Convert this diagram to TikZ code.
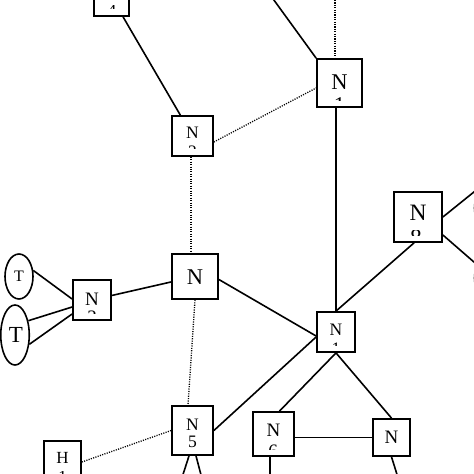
\documentclass[tikz,border=0pt]{standalone}
\usepackage{fontspec}
\setmainfont{Liberation Serif}
\usetikzlibrary{shapes.geometric,calc}
\tikzset{
  box/.style={draw, line width=1.8pt, rectangle, inner sep=0pt, fill=white},
  ell/.style={draw, line width=1.6pt, ellipse, inner sep=0pt},
  lab/.style={inner sep=0pt},
  edge/.style={line width=1.6pt},
  dotl/.style={line width=1.3pt, dash pattern=on 1.1pt off 1.3pt},
}
\newcommand\fsz[1]{\fontsize{#1}{#1}\selectfont}
\newcommand\fragd[6]{%
  \begin{scope}
    \clip (#2-8,#3) rectangle (#2+8,#4);
    \node[lab, anchor=north, font=\fsz{#6}] (#1) at (#2,#3) {#5};
  \end{scope}}
\begin{document}
\begin{tikzpicture}[x=1pt,y=-1pt]
\useasboundingbox (0,0) rectangle (474,474);
\clip (0,0) rectangle (474,474);

% boxes
\node[box, minimum width=35pt, minimum height=38pt] (nA) at (111.5,-3) {};
\node[box, minimum width=41pt, minimum height=40pt] (nB) at (192.5,136) {};
\node[box, minimum width=45pt, minimum height=48pt] (nC) at (339.5,83) {};
\node[box, minimum width=48pt, minimum height=50pt] (nD) at (418,217) {};
\node[box, minimum width=38pt, minimum height=40pt] (nE) at (92,300) {};
\node[box, minimum width=46pt, minimum height=45pt] (nF) at (195,276.5) {};
\node[box, minimum width=38pt, minimum height=40pt] (nG) at (336,332) {};
\node[box, minimum width=41pt, minimum height=49pt] (nH) at (192.5,430.5) {};
\node[box, minimum width=41pt, minimum height=44pt] (nI) at (273.5,434) {};
\node[box, minimum width=37pt, minimum height=37pt] (nJ) at (391.5,437.5) {};
\node[box, minimum width=37pt, minimum height=40pt] (nK) at (62.5,461) {};

% ellipses
\node[ell, minimum width=28pt, minimum height=45pt] (T1) at (19,276.5) {};
\node[ell, minimum width=28.5pt, minimum height=60pt] (T2) at (15,335) {};
\node[ell, minimum width=31pt, minimum height=44pt] (eR1) at (490,208) {};
\node[ell, minimum width=31pt, minimum height=44pt] (eR2) at (490,278) {};

% off-page connector ends
\coordinate (oA) at (231,-59);
\coordinate (oB) at (335,-60);
\coordinate (oC) at (490,179);
\coordinate (oD) at (490,276);
\coordinate (oE) at (270,490);
\coordinate (oF) at (400,484);
\coordinate (oG) at (178,490);
\coordinate (oH) at (205,490);

% solid connectors
\draw[edge] (nA) -- (nB);
\draw[edge] (oA) -- (nC.north west);
\draw[edge] (nG.north) -- (nG.north |- nC.south);
\draw[edge] (nF) -- (nE);
\draw[edge] (T1.23) -- ($(nE.west)+(0,-1)$);
\draw[edge] (T2.47) -- ($(nE.west)+(0,7)$);
\draw[edge] (T2.-33) -- ($(nE.west)+(0,14)$);
\draw[edge] ($(nF.east)+(0,3)$) -- ($(nG.west)+(0,4)$);
\draw[edge] (nH.east) -- ($(nG.west)+(0,5)$);
\draw[edge] (nG.north) -- ($(nD.south)+(-4,0)$);
\draw[edge] (nD.east) -- (oC);
\draw[edge] ($(nD.east)+(0,18)$) -- (oD);
\draw[edge] (nG.south) -- ($(nI.north)+(6,0)$);
\draw[edge] (nG.south) -- (nJ.north);
\draw[edge] (nJ.west) -- (nJ.west -| nI.east);
\draw[edge] (nI.south -| oE) -- (oE);
\draw[edge] (nJ.south) -- (oF);
\draw[edge] ($(nH.south)+(-3.5,0)$) -- (oG);
\draw[edge] ($(nH.south)+(3.5,0)$) -- (oH);

% dotted connectors
\draw[dotl] (oB) -- ($(nC.north)+(-4.5,0)$);
\draw[dotl] ($(nB.east)+(0,6)$) -- ($(nC.west)+(0,5)$);
\draw[dotl] ($(nB.south)+(-1.5,0)$) -- ($(nF.north)+(-4,0)$);
\draw[dotl] (nF.south) -- ($(nH.north)+(-4.5,0)$);
\draw[dotl] (nH.west) -- ($(nK.east)+(0,1)$);

% labels
\node[lab, font=\fsz{17.5}] (tB) at (192.5,133) {N};
\node[lab, font=\fsz{22.5}] (tC) at (339.5,82) {N};
\node[lab, font=\fsz{23.5}] (tD) at (418,212.5) {N};
\node[lab, font=\fsz{19}] (tE) at (92,299) {N};
\node[lab, font=\fsz{22.5}] (tF) at (195,277) {N};
\node[lab, font=\fsz{17.5}] (tG) at (336,330) {N};
\node[lab, font=\fsz{17.5}] (tH) at (192.5,425) {N};
\node[lab, font=\fsz{17.5}] (tH2) at (192.5,442) {5};
\node[lab, font=\fsz{19}] (tI) at (273.5,430) {N};
\node[lab, font=\fsz{19}] (tJ) at (391.5,437) {N};
\node[lab, font=\fsz{17}] (tK) at (62.5,458) {H};
\node[lab, font=\fsz{16}] (tT1) at (19,276.5) {T};
\node[lab, font=\fsz{23}] (tT2) at (16,335) {T};

% clipped digit fragments
\fragd{fA}{112}{5}{8.5}{4}{17.5}
\fragd{fB}{192.5}{145.5}{148.5}{2}{17.5}
\fragd{fC}{339.5}{97.5}{100}{1}{22.5}
\fragd{fD}{416}{230}{235}{8}{23.5}
\fragd{fE}{92}{310.5}{313.5}{2}{19}
\fragd{fG}{336}{342.5}{345}{1}{17.5}
\fragd{fI}{273}{444.5}{449}{6}{19}
\fragd{fK}{62.5}{471.5}{476}{1}{17}
\end{tikzpicture}
\end{document}
